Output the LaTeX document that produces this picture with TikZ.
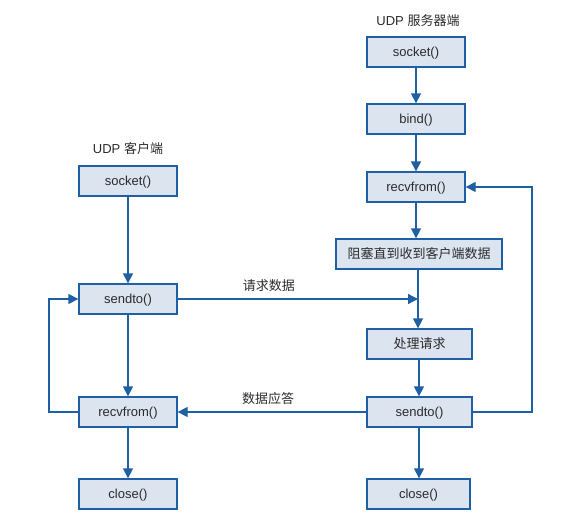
\documentclass[tikz,border=0pt]{standalone}
\usepackage{fontspec}
\setmainfont{Liberation Sans}
\newfontfamily\cjk{Noto Sans CJK SC}
\usetikzlibrary{arrows.meta}
\definecolor{edge}{HTML}{1F5FA3}
\definecolor{boxfill}{HTML}{DCE4F0}
\definecolor{txt}{HTML}{2B2B2B}
\begin{document}
\begin{tikzpicture}[x=1pt,y=-1pt,
  box/.style={draw=edge,fill=boxfill,line width=1.3pt,minimum height=30pt,inner sep=0pt,text height=11pt,text depth=2pt,font=\fontsize{13}{15}\selectfont,text=txt},
  lbox/.style={box,minimum width=98pt},
  rbox/.style={box,minimum width=100pt},
  lbl/.style={font=\fontsize{13}{15}\selectfont,text=txt},
  conn/.style={draw=edge,line width=1.3pt,-{Triangle[length=10pt,width=10pt]}},
  plain/.style={draw=edge,line width=1.3pt}]
\useasboundingbox (0,0) rectangle (584,530);
% titles
\node[lbl] (tl) at (128,149) {UDP {\cjk 客户端}};
\node[lbl] (tr) at (418,21) {UDP {\cjk 服务器端}};
% client
\node[lbox] (cs) at (128,181) {socket()};
\node[lbox] (csend) at (128,299) {sendto()};
\node[lbox] (crecv) at (128,412) {recvfrom()};
\node[lbox] (cclose) at (128,494) {close()};
% server
\node[rbox,minimum width=98pt] (ss) at (416,52) {socket()};
\node[rbox,minimum width=98pt] (sb) at (416,119) {bind()};
\node[rbox,minimum width=98pt] (sr) at (416,187) {recvfrom()};
\node[rbox,minimum width=166pt] (sblk) at (419,254) {\cjk 阻塞直到收到客户端数据};
\node[rbox,minimum width=105pt] (sp) at (419.5,344) {\cjk 处理请求};
\node[rbox,minimum width=105pt] (ssend) at (419.5,412) {sendto()};
\node[rbox,minimum width=103pt] (sclose) at (418.5,494) {close()};
% client arrows
\draw[conn] (cs) -- (csend);
\draw[conn] (csend) -- (crecv);
\draw[conn] (crecv) -- (cclose);
\coordinate (lc1) at (49,412);
\coordinate (lc2) at (49,299);
\draw[conn] (crecv.west) -- (lc1) -- (lc2) -- (csend.west);
% server arrows
\draw[conn] (ss) -- (sb);
\draw[conn] (sb) -- (sr);
\draw[conn] (sr.south) -- (sr.south |- sblk.north);
\draw[conn] (sblk.south -| 418,0) -- (sp.north -| 418,0);
\draw[conn] (sp.south -| 419,0) -- (ssend.north -| 419,0);
\draw[conn] (ssend.south -| 419,0) -- (sclose.north -| 419,0);
\coordinate (rc1) at (532,412);
\coordinate (rc2) at (532,187);
\draw[conn] (ssend.east) -- (rc1) -- (rc2) -- (sr.east);
% messages
\coordinate (hit) at (418,299);
\draw[conn] (csend.east) -- node[lbl,above=3pt,pos=0.38] (m1) {\cjk 请求数据} (hit);
\draw[conn] (ssend.west) -- node[lbl,above=3pt,pos=0.52] (m2) {\cjk 数据应答} (crecv.east);
\end{tikzpicture}
\end{document}
